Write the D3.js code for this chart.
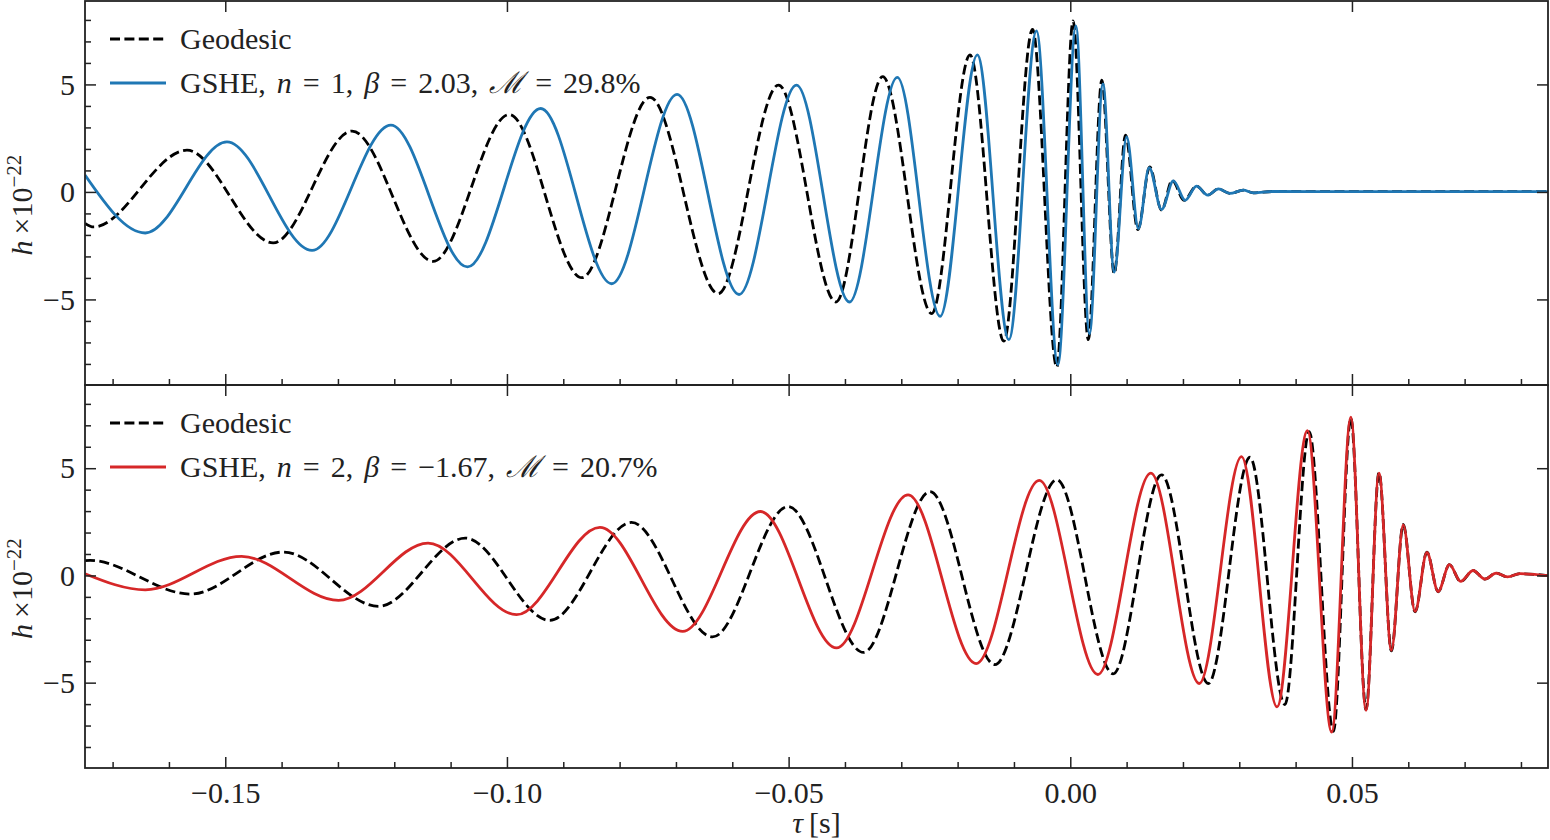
<!DOCTYPE html>
<html>
<head>
<meta charset="utf-8">
<script src="https://d3js.org/d3.v7.min.js"></script>
<style>
  body { margin: 0; background: #fff; }
  svg text { font-family: "Liberation Serif", "DejaVu Serif", serif; fill: #222; font-size: 30px; }
</style>
</head>
<body>
<svg id="vis" width="1550" height="840"></svg>
<script>
// ---- data (tau in s, h in units of 1e-22), turning points of each curve ----
const geo1T  = [-0.1749, -0.1734, -0.1568, -0.1415, -0.1275, -0.1131, -0.0996, -0.0867, -0.0746, -0.0625, -0.0518, -0.0416, -0.0333, -0.0246, -0.0178, -0.0118, -0.0067, -0.0024, 0.0005, 0.0032, 0.0056, 0.0078, 0.0098, 0.0120, 0.0141, 0.0162, 0.0181, 0.0202, 0.0224, 0.0244, 0.0263, 0.0283, 0.0307, 0.0325, 0.036, 0.05, 0.0848];
const geo1H  = [-1.46, -1.63, 1.94, -2.37, 2.83, -3.23, 3.60, -3.99, 4.40, -4.73, 4.97, -5.12, 5.36, -5.66, 6.37, -6.94, 7.56, -8.15, 7.96, -6.87, 5.20, -3.80, 2.64, -1.75, 1.16, -0.85, 0.54, -0.39, 0.27, -0.15, 0.14, -0.07, 0.08, -0.04, 0.02, 0.01, 0.01];
const gshe1T = [-0.1749, -0.1642, -0.1497, -0.1346, -0.1206, -0.1070, -0.0940, -0.0814, -0.0698, -0.0588, -0.0486, -0.0392, -0.0307, -0.0231, -0.0165, -0.0109, -0.0060, -0.0022, 0.0010, 0.0034, 0.0058, 0.0078, 0.0100, 0.0121, 0.0140, 0.0162, 0.0183, 0.0204, 0.0224, 0.0244, 0.0263, 0.0283, 0.0307, 0.0325, 0.036, 0.05, 0.0848];
const gshe1H = [0.78, -1.91, 2.33, -2.72, 3.11, -3.49, 3.88, -4.27, 4.54, -4.77, 4.97, -5.12, 5.33, -5.79, 6.37, -6.87, 7.49, -8.03, 7.72, -6.60, 5.02, -3.73, 2.56, -1.71, 1.13, -0.82, 0.51, -0.39, 0.27, -0.15, 0.14, -0.07, 0.08, -0.04, 0.02, 0.01, 0.01];

const geo2T  = [-0.1749, -0.1740, -0.1562, -0.1397, -0.1228, -0.1074, -0.0924, -0.0779, -0.0635, -0.0501, -0.0367, -0.0249, -0.0134, -0.0024, 0.0076, 0.0162, 0.0245, 0.0319, 0.0381, 0.0424, 0.0467, 0.0498, 0.0525, 0.0548, 0.0570, 0.0591, 0.0612, 0.0633, 0.0653, 0.0673, 0.0693, 0.0715, 0.0736, 0.0756, 0.0776, 0.0798, 0.0848];
const geo2H  = [0.69, 0.70, -0.87, 1.09, -1.44, 1.74, -2.10, 2.47, -2.87, 3.21, -3.59, 3.91, -4.16, 4.46, -4.59, 4.69, -5.04, 5.51, -6.02, 6.71, -7.27, 7.33, -6.26, 4.80, -3.52, 2.38, -1.70, 1.08, -0.76, 0.50, -0.29, 0.23, -0.17, 0.11, -0.07, 0.08, -0.01];
const gshe2T = [-0.1749, -0.1642, -0.1471, -0.1299, -0.1140, -0.0983, -0.0835, -0.0688, -0.0550, -0.0415, -0.0288, -0.0167, -0.0055, 0.0049, 0.0143, 0.0229, 0.0304, 0.0367, 0.0421, 0.0464, 0.0498, 0.0525, 0.0548, 0.0570, 0.0591, 0.0612, 0.0633, 0.0653, 0.0673, 0.0693, 0.0715, 0.0736, 0.0756, 0.0776, 0.0798, 0.0848];
const gshe2H = [0.08, -0.67, 0.89, -1.16, 1.51, -1.83, 2.24, -2.61, 2.98, -3.38, 3.76, -4.11, 4.43, -4.62, 4.77, -5.04, 5.54, -6.13, 6.75, -7.31, 7.38, -6.29, 4.77, -3.49, 2.36, -1.68, 1.07, -0.75, 0.50, -0.28, 0.23, -0.17, 0.11, -0.07, 0.08, -0.01];

const labels1 = ["Geodesic", "GSHE", "1", "2.03", "29.8%"];
const labels2 = ["Geodesic", "GSHE", "2", "\u22121.67", "20.7%"];

const xMajor = [-0.15, -0.10, -0.05, 0.00, 0.05];
const xMinor = [-0.17, -0.16, -0.14, -0.13, -0.12, -0.11, -0.09, -0.08, -0.07, -0.06, -0.04, -0.03, -0.02, -0.01, 0.01, 0.02, 0.03, 0.04, 0.06, 0.07, 0.08];
const yMajor = [-5, 0, 5];
const yMinor = [-8, -7, -6, -4, -3, -2, -1, 1, 2, 3, 4, 6, 7, 8];

// ---- layout ----
const left = 85, right = 1548;
const ink = "#222";
const lw = 2.8;
const svg = d3.select("#vis");

const x = d3.scaleLinear().domain([-0.1749, 0.0848]).range([left, right]);

const panels = [
  { top: 1, bottom: 385, geoT: geo1T, geoH: geo1H, gT: gshe1T, gH: gshe1H, color: "#1f77b4", lab: labels1, xlabels: false },
  { top: 385, bottom: 768, geoT: geo2T, geoH: geo2H, gT: gshe2T, gH: gshe2H, color: "#d62728", lab: labels2, xlabels: true }
];

function styleAxis(g) {
  g.select(".domain").remove();
  g.attr("color", ink).attr("font-size", null).attr("font-family", null);
  g.selectAll("line").attr("stroke-width", 1.5);
}

panels.forEach((p, i) => {
  const y = d3.scaleLinear().domain([-8.98, 8.88]).range([p.bottom, p.top]);
  const g = svg.append("g");

  svg.append("clipPath").attr("id", "clip" + i)
    .append("rect").attr("x", left).attr("y", p.top)
    .attr("width", right - left).attr("height", p.bottom - p.top);

  const line = d3.line().x(d => x(d[0])).y(d => y(d[1])).curve(d3.curveMonotoneX);

  // geodesic first, GSHE on top
  g.append("path")
    .datum(p.geoT.map((t, k) => [t, p.geoH[k]]))
    .attr("clip-path", "url(#clip" + i + ")")
    .attr("fill", "none").attr("stroke", "#000").attr("stroke-width", lw)
    .attr("stroke-dasharray", "10 4.4")
    .attr("d", line);

  g.append("path")
    .datum(p.gT.map((t, k) => [t, p.gH[k]]))
    .attr("clip-path", "url(#clip" + i + ")")
    .attr("fill", "none").attr("stroke", p.color).attr("stroke-width", lw)
    .attr("d", line);

  // axes, ticks pointing inwards
  g.append("g").attr("transform", `translate(${left},0)`)
    .call(d3.axisLeft(y).tickValues(yMajor).tickSize(-11).tickPadding(10).tickFormat(d3.format("d")))
    .call(styleAxis);
  g.append("g").attr("transform", `translate(${left},0)`)
    .call(d3.axisLeft(y).tickValues(yMinor).tickSize(-6).tickFormat(""))
    .call(styleAxis);
  g.append("g").attr("transform", `translate(${right},0)`)
    .call(d3.axisRight(y).tickValues(yMajor).tickSize(-11).tickFormat(""))
    .call(styleAxis);

  g.append("g").attr("transform", `translate(0,${p.bottom})`)
    .call(d3.axisBottom(x).tickValues(xMajor).tickSize(-11).tickPadding(14)
      .tickFormat(p.xlabels ? d3.format(".2f") : ""))
    .call(styleAxis);
  g.append("g").attr("transform", `translate(0,${p.bottom})`)
    .call(d3.axisBottom(x).tickValues(xMinor).tickSize(-6).tickFormat(""))
    .call(styleAxis);
  g.append("g").attr("transform", `translate(0,${p.top})`)
    .call(d3.axisTop(x).tickValues(xMajor).tickSize(-11).tickFormat(""))
    .call(styleAxis);

  // frame
  g.append("rect").attr("x", left).attr("y", p.top)
    .attr("width", right - left).attr("height", p.bottom - p.top)
    .attr("fill", "none").attr("stroke", ink).attr("stroke-width", 1.8);

  // legend
  const ly = p.top + 38;
  const leg = g.append("g");
  leg.append("line").attr("x1", 110).attr("x2", 166).attr("y1", ly).attr("y2", ly)
    .attr("stroke", "#000").attr("stroke-width", lw).attr("stroke-dasharray", "10 4.4");
  leg.append("text").attr("x", 180).attr("y", ly + 10).text(p.lab[0]);
  leg.append("line").attr("x1", 110).attr("x2", 166).attr("y1", ly + 44).attr("y2", ly + 44)
    .attr("stroke", p.color).attr("stroke-width", lw);
  const t2 = leg.append("text").attr("x", 180).attr("y", ly + 54);
  const eq = (v) => {
    t2.append("tspan").attr("dx", 11).text("=");
    t2.append("tspan").attr("dx", 11).text(v);
  };
  t2.append("tspan").text(p.lab[1] + ",");
  t2.append("tspan").attr("dx", 11).attr("font-style", "italic").text("n");
  eq(p.lab[2] + ",");
  t2.append("tspan").attr("dx", 11).attr("font-style", "italic").text("\u03b2");
  eq(p.lab[3] + ",");
  t2.append("tspan").attr("dx", 11).attr("font-style", "italic").text("\u2133");
  eq(p.lab[4]);

  // y label
  const cy = (p.top + p.bottom) / 2 + 12;
  const yl = g.append("text")
    .attr("transform", `translate(32,${cy}) rotate(-90)`)
    .attr("text-anchor", "middle");
  yl.append("tspan").attr("font-style", "italic").text("h");
  yl.append("tspan").attr("dx", 6).text("\u00d710");
  yl.append("tspan").attr("dy", -11).attr("font-size", "21px").text("\u221222");
});

// x label
const xl = svg.append("text").attr("x", (left + right) / 2).attr("y", 833).attr("text-anchor", "middle");
xl.append("tspan").attr("font-style", "italic").text("\u03c4");
xl.append("tspan").attr("dx", 6).text("[s]");
</script>
</body>
</html>
